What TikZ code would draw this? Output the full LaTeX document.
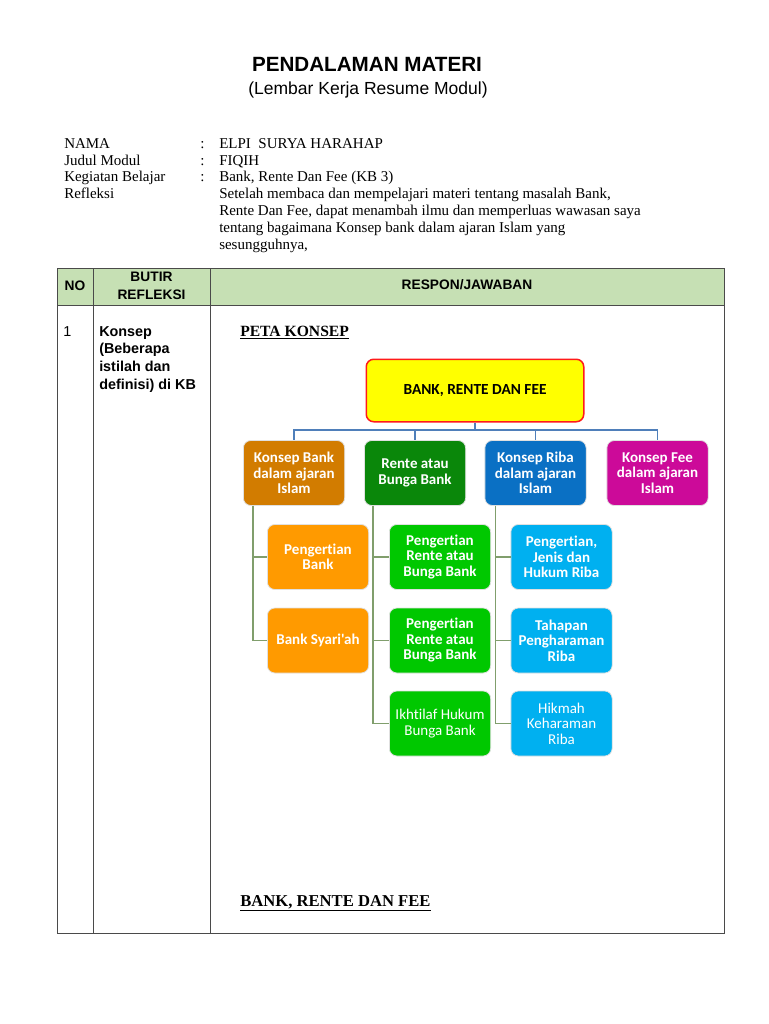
\documentclass[tikz,border=0pt]{standalone}
\usepackage{fontspec}
\setmainfont{Liberation Serif}
\newfontfamily\arialf{Liberation Sans}
\newfontfamily\calib[Ligatures=NoCommon]{Carlito}
\usepackage{xcolor}
\usetikzlibrary{positioning}

\definecolor{hijauKepala}{HTML}{C6E0B4}
\definecolor{garisTabel}{HTML}{4A4A4A}
\definecolor{kuning}{HTML}{FFFF00}
\definecolor{merah}{HTML}{FF1A1A}
\definecolor{oranyeTua}{HTML}{D27C00}
\definecolor{hijauTua}{HTML}{0A870A}
\definecolor{biruTua}{HTML}{0A70C4}
\definecolor{ungu}{HTML}{CC0A99}
\definecolor{oranye}{HTML}{FF9A00}
\definecolor{hijau}{HTML}{00C800}
\definecolor{biru}{HTML}{00B0F0}
\definecolor{garisAtas}{HTML}{4F7FBA}
\definecolor{garisBawah}{HTML}{809E6C}

\begin{document}
\begin{tikzpicture}[x=0.8pt, y=-0.8pt,
    teks/.style={anchor=base west, inner sep=0pt, font=\fontsize{12}{13.4}\selectfont},
    kepala/.style={inner sep=0pt, align=center, font=\arialf\bfseries\fontsize{11}{14.4}\selectfont},
    baris/.style={anchor=base west, inner sep=0pt, font=\arialf\bfseries\fontsize{11.5}{14}\selectfont},
    tabel/.style={draw=garisTabel, line width=0.8pt},
    kotak/.style={rounded corners=6pt, draw=black!12, line width=0.6pt,
        minimum width=81pt, minimum height=52pt, inner sep=1pt, align=center,
        text=white, font=\calib\bfseries\fontsize{12}{12.4}\selectfont},
    garis/.style={draw=garisAtas, line width=1pt},
    cabang/.style={draw=garisBawah, line width=1pt}]

    % Latar putih dan batas halaman
    \fill[white] (0,0) rectangle (768,1024);
    \useasboundingbox (0,0) rectangle (768,1024);

    % Judul lembar kerja
    \node[anchor=base, inner sep=0pt, font=\arialf\bfseries\fontsize{16.5}{20}\selectfont] (judul) at (367,72) {PENDALAMAN MATERI};
    \node[anchor=base, inner sep=0pt, font=\arialf\fontsize{14}{17}\selectfont] (subjudul) at (368,95) {(Lembar Kerja Resume Modul)};

    % Identitas peserta
    \node[teks] (lNama) at (64,149) {NAMA};
    \node[teks] (tNama) at (200,149) {:};
    \node[teks] (iNama) at (219,149) {ELPI\ \ SURYA HARAHAP};
    \node[teks] (lModul) at (64,166) {Judul Modul};
    \node[teks] (tModul) at (200,166) {:};
    \node[teks] (iModul) at (219,166) {FIQIH};
    \node[teks] (lKb) at (64,182) {Kegiatan Belajar};
    \node[teks] (tKb) at (200,182) {:};
    \node[teks] (iKb) at (219,182) {Bank, Rente Dan Fee (KB 3)};
    \node[teks] (lRefleksi) at (64,199) {Refleksi};
    \node[teks] (refl1) at (219,199) {Setelah membaca dan mempelajari materi tentang masalah Bank,};
    \node[teks] (refl2) at (219,216) {Rente Dan Fee, dapat menambah ilmu dan memperluas wawasan saya};
    \node[teks] (refl3) at (219,232) {tentang bagaimana Konsep bank dalam ajaran Islam yang};
    \node[teks] (refl4) at (219,249) {sesungguhnya,};

    % Tabel respon
    \fill[hijauKepala] (57,268) rectangle (724,305);
    \draw[tabel] (57,268) rectangle (724,933);
    \draw[tabel] (57,305) -- (724,305);
    \draw[tabel] (93,268) -- (93,933);
    \draw[tabel] (210,268) -- (210,933);

    \node[kepala] (hNo) at (75,286) {NO};
    \node[kepala] (hButir) at (151.5,286) {BUTIR\\REFLEKSI};
    \node[kepala] (hRespon) at (467,285) {RESPON/JAWABAN};

    \node[anchor=base west, inner sep=0pt, font=\arialf\fontsize{11.5}{14}\selectfont] (no1) at (63,336) {1};
    \node[baris] (butir1) at (99,336) {Konsep};
    \node[baris] (butir2) at (99,353) {(Beberapa};
    \node[baris] (butir3) at (99,371) {istilah dan};
    \node[baris] (butir4) at (99,389) {definisi) di KB};

    \node[teks, font=\bfseries\fontsize{12.5}{15}\selectfont] (peta) at (240,336) {\underline{PETA KONSEP}};
    \node[teks, font=\bfseries\fontsize{13.3}{16}\selectfont] (judulBawah) at (240,906) {\underline{BANK, RENTE DAN FEE}};

    % Peta konsep: kotak utama dan empat cabang
    \node[kotak, fill=kuning, draw=merah, line width=1.2pt, text=black, minimum width=174pt,
        minimum height=50pt, font=\calib\bfseries\fontsize{12.3}{13}\selectfont] (pusat) at (475,390.5) {BANK, RENTE DAN FEE};
    \node[kotak, fill=oranyeTua] (kBank) at (294,473) {Konsep Bank\\dalam ajaran\\Islam};
    \node[kotak, fill=hijauTua] (kRente) at (415,473) {Rente atau\\Bunga Bank};
    \node[kotak, fill=biruTua] (kRiba) at (535.5,473) {Konsep Riba\\dalam ajaran\\Islam};
    \node[kotak, fill=ungu] (kFee) at (657.5,473) {Konsep Fee\\dalam ajaran\\Islam};

    % Sub-cabang tiap konsep
    \node[kotak, fill=oranye] (bank1) at (318,557) {Pengertian\\Bank};
    \node[kotak, fill=oranye] (bank2) at (318,640.5) {Bank Syari'ah};
    \node[kotak, fill=hijau] (rente1) at (440,557) {Pengertian\\Rente atau\\Bunga Bank};
    \node[kotak, fill=hijau] (rente2) at (440,640.5) {Pengertian\\Rente atau\\Bunga Bank};
    \node[kotak, fill=hijau, font=\calib\fontsize{12}{12.4}\selectfont] (rente3) at (440,723.5) {Ikhtilaf Hukum\\Bunga Bank};
    \node[kotak, fill=biru] (riba1) at (561.5,557) {Pengertian,\\Jenis dan\\Hukum Riba};
    \node[kotak, fill=biru] (riba2) at (561.5,640.5) {Tahapan\\Pengharaman\\Riba};
    \node[kotak, fill=biru, font=\calib\fontsize{12}{12.4}\selectfont] (riba3) at (561.5,723.5) {Hikmah\\Keharaman\\Riba};

    % Garis penghubung dari kotak utama
    \coordinate (bus) at (475,430);
    \draw[garis] (pusat.south) -- (bus);
    \foreach \k in {kBank,kRente,kRiba,kFee}
        \draw[garis] (bus) -| (\k.north);

    % Garis penghubung ke sub-cabang
    \coordinate (tBank) at ([xshift=8pt]kBank.south west);
    \coordinate (tRente) at ([xshift=7.2pt]kRente.south west);
    \coordinate (tRiba) at ([xshift=8.8pt]kRiba.south west);
    \draw[cabang] (tBank) |- (bank1.west);
    \draw[cabang] (tBank) |- (bank2.west);
    \foreach \s in {rente1,rente2,rente3}
        \draw[cabang] (tRente) |- (\s.west);
    \foreach \s in {riba1,riba2,riba3}
        \draw[cabang] (tRiba) |- (\s.west);
\end{tikzpicture}
\end{document}
